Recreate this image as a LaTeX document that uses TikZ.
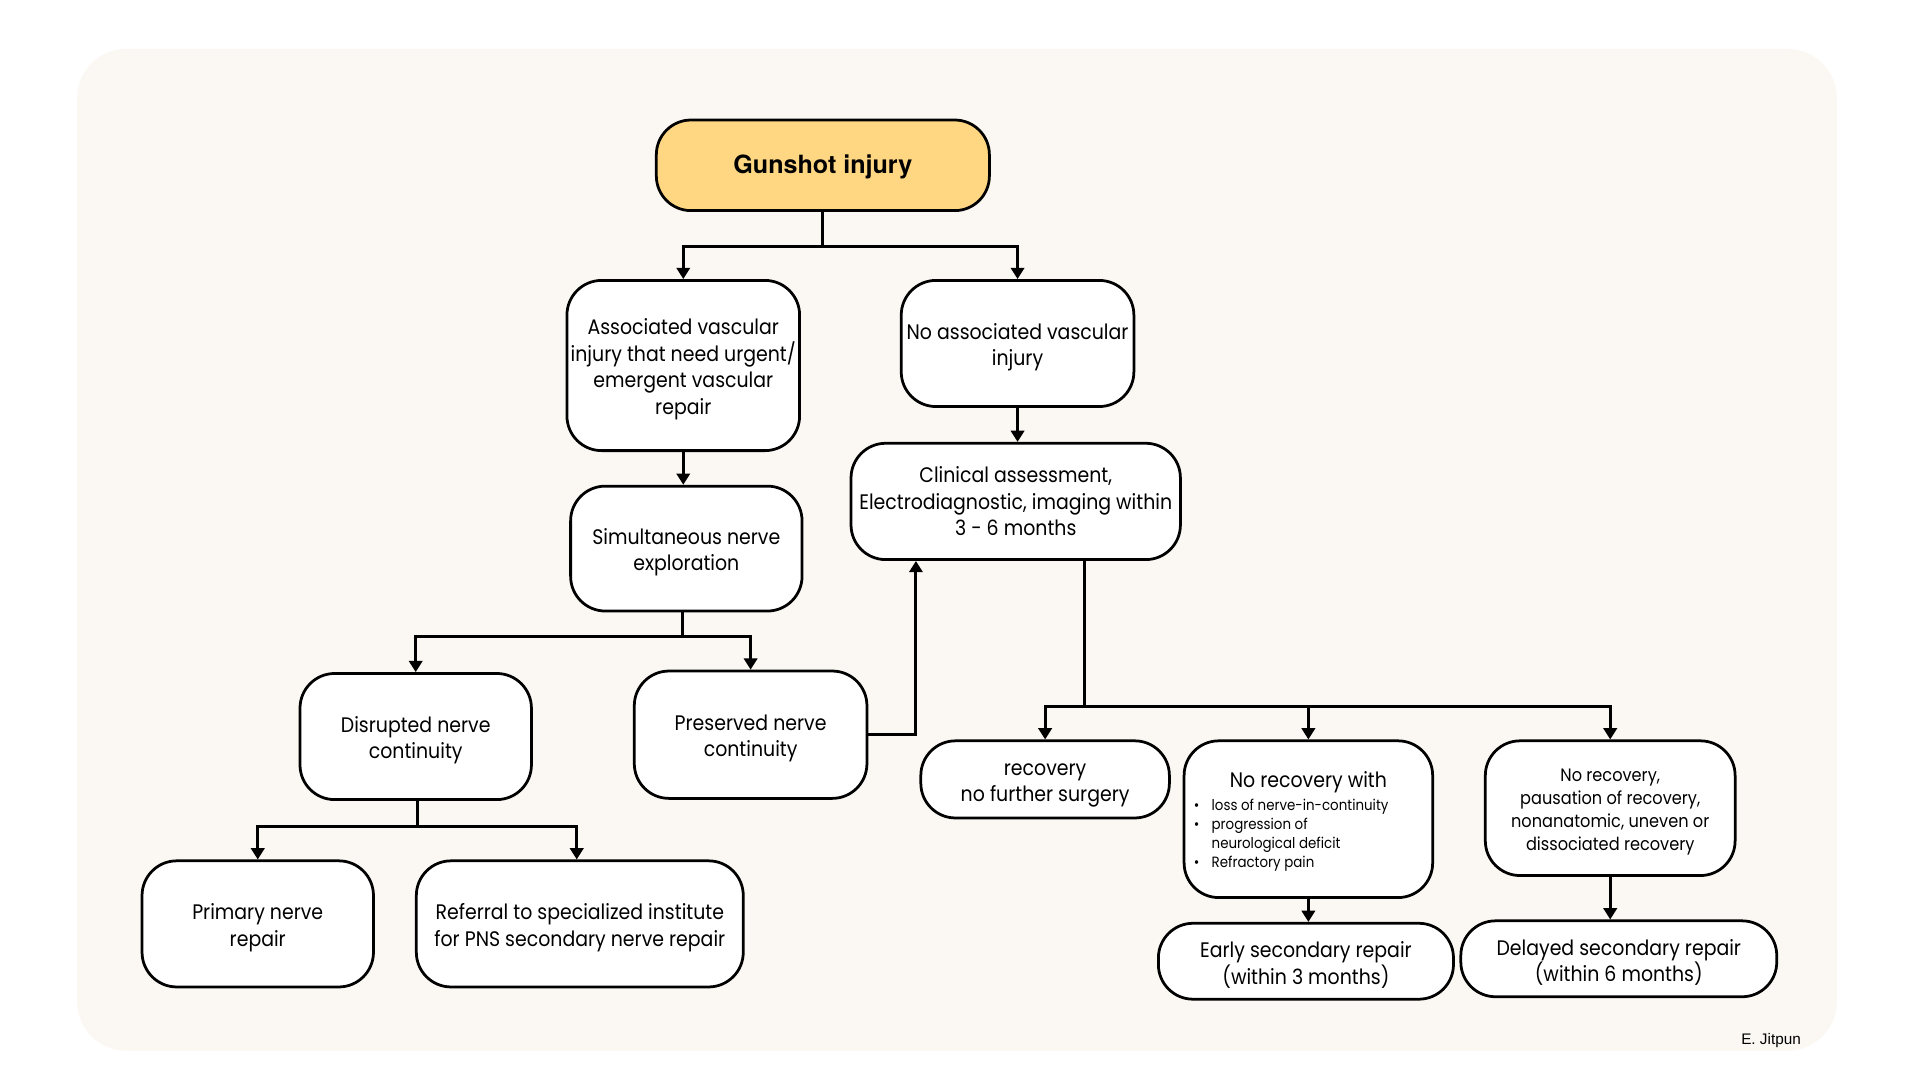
\documentclass[tikz,border=0pt]{standalone}
\usepackage{fontspec}
\setmainfont[FakeStretch=0.9]{Poppins}
\newfontfamily\titlefont{TeX Gyre Heros}
\newfontfamily\signfont{Liberation Sans}
\usetikzlibrary{arrows.meta,calc}
\definecolor{bgcol}{RGB}{251,248,243}
\definecolor{gunfill}{RGB}{255,214,130}
\newcommand\fls{\rule{0pt}{11.5pt}}
\tikzset{
  box/.style 2 args={draw=black, line width=1.35pt, fill=white, rounded corners=17pt,
    minimum width=#1*0.6pt, minimum height=#2*0.6pt, inner sep=0pt, align=center,
    font=\fontsize{10.3}{13}\selectfont},
  conn/.style={line width=1.5pt, draw=black},
  arr/.style={conn, -{Triangle[width=6.5pt,length=5.5pt]}},
}
\begin{document}
\begin{tikzpicture}[x=0.6pt,y=-0.6pt]
\useasboundingbox (0,0) rectangle (1568,882);
\fill[white] (0,0) rectangle (1568,882);
\fill[bgcol, rounded corners=24pt] (63,40) rectangle (1500,858);

\node[box={272}{74}, fill=gunfill, font=\titlefont\bfseries\fontsize{12.3}{15}\selectfont] (gun) at (672,135) {\rule{0pt}{11pt}Gunshot injury};
\node[box={190}{139}] (assoc) at (558,298.5) {\fls Associated vascular\\injury that need urgent/\\emergent vascular\\repair};
\node[box={190}{103}] (noassoc) at (831,280.5) {\fls No associated vascular\\injury};
\node[box={189}{102}] (simul) at (560.5,448) {\fls Simultaneous nerve\\exploration};
\node[box={269}{95}] (clin) at (829.5,409.5) {Clinical assessment,\\Electrodiagnostic, imaging within\\3 - 6 months};
\node[box={189}{103}] (disr) at (339.5,601.5) {\fls Disrupted nerve\\continuity};
\node[box={190}{104}] (pres) at (613,600) {\fls Preserved nerve\\continuity};
\node[box={203}{63}] (recov) at (853.5,636.5) {\fls recovery\\no further surgery};
\node[box={203}{128}, align=left] (norec) at (1068.5,669) {%
  \parbox{187\dimexpr0.6pt\relax}{%
  \vspace*{3pt}
  \centering No recovery with\par\vspace{1pt}
  \raggedright\fontsize{7.3}{9.3}\selectfont
  \begin{tabular}{@{}l@{\hspace{6pt}}l@{}}
  \textbullet & loss of nerve-in-continuity\\
  \textbullet & progression of\\
   & neurological deficit\\
  \textbullet & Refractory pain
  \end{tabular}\par}};
\node[box={204}{110}, font=\fontsize{8.8}{11.2}\selectfont] (nopaus) at (1315,660) {\rule{0pt}{10pt}No recovery,\\pausation of recovery,\\nonanatomic, uneven or\\dissociated recovery};
\node[box={189}{103}] (prim) at (210.5,754.5) {\fls Primary nerve\\repair};
\node[box={267}{103}] (refer) at (473.5,754.5) {\fls Referral to specialized institute\\for PNS secondary nerve repair};
\node[box={241}{62}] (early) at (1066.5,785) {\fls Early secondary repair\\(within 3 months)};
\node[box={258}{62}] (delay) at (1322,783) {\fls Delayed secondary repair\\(within 6 months)};

\node[font=\signfont\fontsize{7.5}{9}\selectfont, anchor=east, inner sep=0pt] (sign) at (1471,850) {E. Jitpun};

% connectors
\coordinate (j1) at ($(gun.south)+(0,28)$);
\draw[conn] (gun.south) -- (j1);
\draw[arr] (j1) -| (assoc.north);
\draw[arr] (j1) -| (noassoc.north);

\draw[arr] (assoc.south) -- (assoc.south |- simul.north);
\draw[arr] (noassoc.south) -- (noassoc.south |- clin.north);

\coordinate (j2) at ($(simul.south)+(-3,20)$);
\draw[conn] (simul.south -| j2) -- (j2);
\draw[arr] (j2) -| (disr.north);
\draw[arr] (j2) -| (pres.north);

\coordinate (c1) at ($(clin.south)+(-81.5,0)$);
\draw[arr] (pres.east) -| (c1);

\coordinate (j3) at ($(clin.south)+(56.5,119)$);
\draw[conn] (clin.south -| j3) -- (j3);
\draw[arr] (j3) -| (recov.north);
\draw[arr] (j3) -| (norec.north);
\draw[arr] (j3) -| (nopaus.north);

\coordinate (j4) at ($(disr.south)+(1.5,21)$);
\draw[conn] (disr.south -| j4) -- (j4);
\draw[arr] (j4) -| (prim.north);
\draw[arr] (j4) -| ($(refer.north)+(-2.5,0)$);

\draw[arr] (norec.south) -- (norec.south |- early.north);
\draw[arr] (nopaus.south) -- (nopaus.south |- delay.north);
\end{tikzpicture}
\end{document}
